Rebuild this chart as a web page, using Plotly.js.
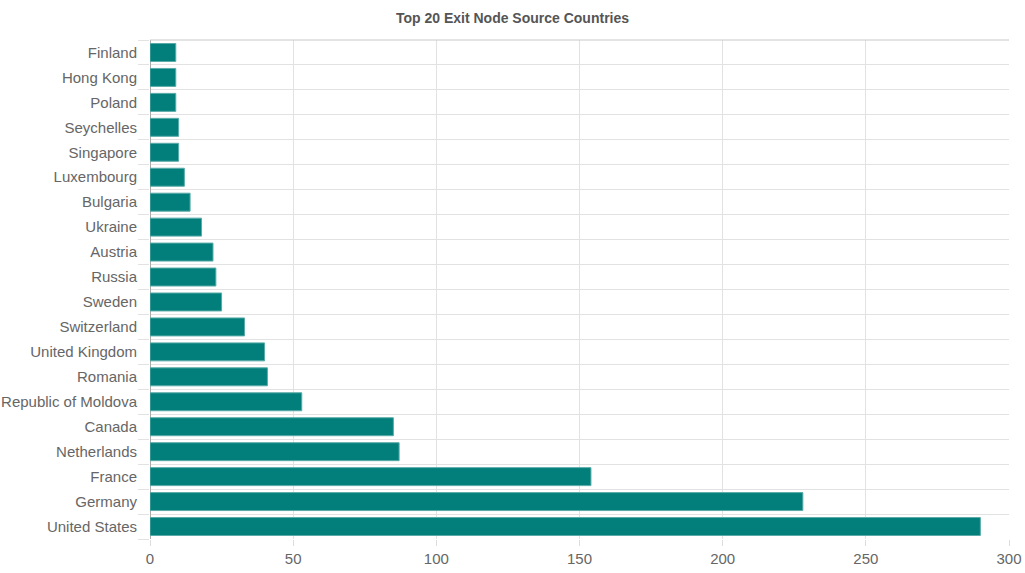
<!DOCTYPE html>
<html>
<head>
<meta charset="utf-8">
<script src="https://cdn.plot.ly/plotly-3.0.1.min.js"></script>
<style>html,body{margin:0;padding:0;background:#fff;}#chart{width:1025px;height:573px;}</style>
</head>
<body>
<div id="chart"></div>
<script>
var countries = ["United States","Germany","France","Netherlands","Canada","Republic of Moldova","Romania","United Kingdom","Switzerland","Sweden","Russia","Austria","Ukraine","Bulgaria","Luxembourg","Singapore","Seychelles","Poland","Hong Kong","Finland"];
var counts = [290,228,154,87,85,53,41,40,33,25,23,22,18,14,12,10,10,9,9,9];
var xTicks = [0,50,100,150,200,250,300];

var trace = {
  type: "bar",
  orientation: "h",
  x: counts,
  y: countries,
  marker: {color: "#027f7b", line: {color: "#5aaba8", width: 1}},
  hoverinfo: "x+y"
};

var layout = {
  width: 1025, height: 573,
  margin: {l: 150, r: 16, t: 40, b: 34},
  paper_bgcolor: "#fff", plot_bgcolor: "#fff",
  title: {text: "Top 20 Exit Node Source Countries", x: 0.5, xref: "container", xanchor: "center",
          y: 0.968, yref: "container", yanchor: "middle",
          font: {family: "Liberation Sans, Arial, sans-serif", size: 14, color: "#555", weight: "bold"}},
  bargap: 0.28,
  font: {family: "Liberation Sans, Arial, sans-serif", size: 15, color: "#666"},
  xaxis: {range: [0, 300], tickvals: xTicks, ticktext: xTicks.map(String),
          showgrid: true, gridcolor: "#e2e2e2", gridwidth: 1,
          zeroline: true, zerolinecolor: "#aaa", zerolinewidth: 1,
          ticks: "outside", ticklen: 6, tickcolor: "#ddd",
          tickfont: {size: 15, color: "#666"}, fixedrange: true},
  yaxis: {type: "category", tickson: "boundaries", showgrid: true, gridcolor: "#e2e2e2", gridwidth: 1,
          ticks: "outside", ticklen: 11, tickcolor: "#e2e2e2", ticklabelstandoff: 12,
          tickfont: {size: 15, color: "#666"}, fixedrange: true,
          showline: false},
  shapes: [{type: "line", xref: "paper", yref: "paper", x0: 0, x1: 1, y0: 1, y1: 1, line: {color: "#c8c8c8", width: 1}}],
  showlegend: false
};

Plotly.newPlot("chart", [trace], layout, {displayModeBar: false, staticPlot: true});
</script>
</body>
</html>
